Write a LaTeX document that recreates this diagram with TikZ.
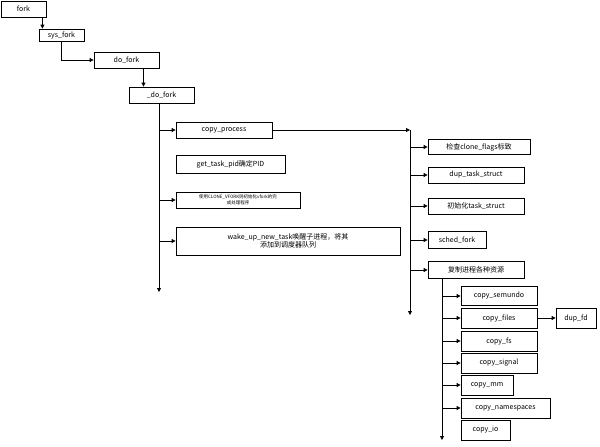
\documentclass[tikz,border=0pt]{standalone}
\usepackage{fontspec}
\setmainfont{Noto Sans CJK SC}
\usetikzlibrary{arrows.meta}
\tikzset{box/.style={draw, thick, inner sep=1pt, font=\fontsize{7}{8.5}\selectfont, align=center}}
\tikzset{arr/.style={thick, -{Triangle[length=4pt,width=4pt]}}}
\tikzset{line/.style={thick}}

\begin{document}
\begin{tikzpicture}[x=1pt, y=-1pt]
        \useasboundingbox (0,0) rectangle (600,447);

        \node[box, minimum width=45pt, minimum height=16pt] (fork) at (23.5, 9) {fork};
        \node[box, minimum width=45pt, minimum height=12pt] (sysfork) at (61.5, 35) {sys\_fork};
        \node[box, minimum width=65pt, minimum height=16pt] (dofork) at (126.5, 60) {do\_fork};
        \node[box, minimum width=65pt, minimum height=16pt] (ddofork) at (161.5, 95) {\_do\_fork};

        \draw [arr] ([xshift=-4pt]fork.south east) -- ([xshift=-4pt]fork.south east |- sysfork.north);
        \draw [arr] (sysfork.south) |- (dofork.west);
        \draw [arr] ([xshift=17pt]dofork.south) -- ([xshift=17pt]dofork.south |- ddofork.north);

        % left trunk
        \coordinate (trunkA) at (159, 292);
        \node[box, minimum width=96pt, minimum height=16pt] (cp) at (224, 130) {copy\_process};
        \node[box, minimum width=109pt, minimum height=18pt] (pid) at (230.5, 164) {get\_task\_pid确定PID};
        \node[box, minimum width=124pt, minimum height=16pt, font=\fontsize{4.5}{5.5}\selectfont] (vfork) at (238, 200) {使用CLONE\_VFORK则初始化vfork的完\\成处理程序};
        \node[box, minimum width=224pt, minimum height=28pt] (wake) at (288, 241) {wake\_up\_new\_task唤醒子进程，将其\\添加到调度器队列};

        \draw [arr] ([xshift=-2.5pt]ddofork.south) -- (trunkA);
        \draw [arr] (trunkA |- cp.west) -- (cp.west);
        \draw [arr] (trunkA |- vfork.west) -- (vfork.west);
        \draw [arr] (trunkA |- wake.west) -- (wake.west);

        % right trunk
        \coordinate (trunkBtop) at (410, 130);
        \coordinate (trunkB) at (410, 315);
        \node[box, minimum width=102pt, minimum height=15pt] (chk) at (479, 147) {检查clone\_flags标致};
        \node[box, minimum width=96pt, minimum height=16pt] (dup) at (476, 175) {dup\_task\_struct};
        \node[box, minimum width=96pt, minimum height=16pt] (init) at (476, 206) {初始化task\_struct};
        \node[box, minimum width=58pt, minimum height=17pt] (sched) at (457, 240) {sched\_fork};
        \node[box, minimum width=96pt, minimum height=17pt] (res) at (476, 270) {复制进程各种资源};

        \draw [arr] (cp.east) -- (trunkBtop);
        \draw [arr] (trunkBtop) -- (trunkB);
        \draw [arr] (trunkB |- chk.west) -- (chk.west);
        \draw [arr] (trunkB |- dup.west) -- (dup.west);
        \draw [arr] (trunkB |- init.west) -- (init.west);
        \draw [arr] (trunkB |- sched.west) -- (sched.west);
        \draw [arr] (trunkB |- res.west) -- (res.west);

        % resources
        \coordinate (trunkC) at (442, 440);
        \node[box, minimum width=76pt, minimum height=19pt] (semundo) at (499, 296) {copy\_semundo};
        \node[box, minimum width=76pt, minimum height=20pt] (files) at (499, 318) {copy\_files};
        \node[box, minimum width=40pt, minimum height=20pt] (dupfd) at (576, 318) {dup\_fd};
        \node[box, minimum width=76pt, minimum height=20pt] (fs) at (499, 341) {copy\_fs};
        \node[box, minimum width=76pt, minimum height=20pt] (signal) at (499, 363) {copy\_signal};
        \node[box, minimum width=52pt, minimum height=20pt] (mm) at (487, 385) {copy\_mm};
        \node[box, minimum width=89pt, minimum height=20pt] (ns) at (505.5, 408) {copy\_namespaces};
        \node[box, minimum width=49pt, minimum height=20pt] (io) at (485.5, 430) {copy\_io};

        \draw [arr] ([xshift=-34pt]res.south) -- (trunkC);
        \draw [arr] (trunkC |- semundo.west) -- (semundo.west);
        \draw [arr] (trunkC |- files.west) -- (files.west);
        \draw [arr] (files.east) -- (dupfd.west);
        \draw [arr] (trunkC |- fs.west) -- (fs.west);
        \draw [arr] (trunkC |- signal.west) -- (signal.west);
        \draw [arr] (trunkC |- mm.west) -- (mm.west);
        \draw [arr] (trunkC |- ns.west) -- (ns.west);

   \end{tikzpicture}
\end{document}
